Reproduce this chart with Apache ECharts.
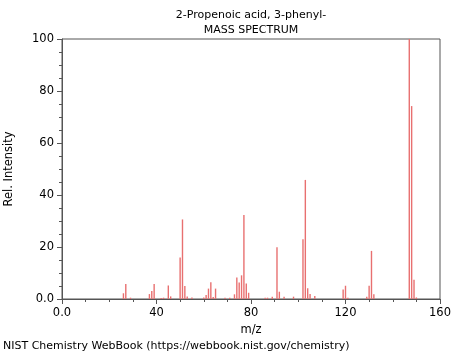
<!DOCTYPE html>
<html>
<head>
<meta charset="utf-8">
<script src="https://cdn.jsdelivr.net/npm/echarts@6/dist/echarts.min.js"></script>
<style>
html,body{margin:0;padding:0;background:#fff;}
#c{width:474px;height:355px;}
</style>
</head>
<body>
<div id="c"></div>
<script>
const titleLines = ["2-Propenoic acid, 3-phenyl-", "MASS SPECTRUM"];
const xTickLabels = ["0.0", "40", "80", "120", "160"];
const yTickLabels = ["0.0", "20", "40", "60", "80", "100"];
const mz = [26,27,29,37,38,39,42,43,45,46,50,51,52,53,55,60,61,62,63,64,65,69,71,73,74,75,76,77,78,79,86,87,89,91,92,94,98,102,103,104,105,107,119,120,121,129,130,131,132,147,148,149,150];
const intensity = [2.2,5.8,0.5,1.9,3.1,5.8,0.4,0.5,5.2,1.0,16,30.6,5.0,1.0,0.6,0.6,1.5,4.0,6.4,0.8,4.0,0.5,0.5,1.8,8.3,6.3,9.1,32.3,6.0,2.4,0.5,0.5,0.9,19.9,2.8,0.9,0.9,23,45.8,4.1,1.9,1.2,3.7,5.1,0.5,0.9,5.1,18.5,1.8,100,74.2,7.4,0.6];

const chart = echarts.init(document.getElementById('c'), null, {renderer: 'canvas'});
const font = 'DejaVu Sans';
const fs = 11.5;
chart.setOption({
  animation: false,
  backgroundColor: '#fff',
  title: [
    {text: titleLines[0], left: 246, top: 5, textAlign: 'center',
     textStyle: {fontFamily: font, fontSize: 11, fontWeight: 'normal', color: '#000'}},
    {text: titleLines[1], left: 246, top: 20, textAlign: 'center',
     textStyle: {fontFamily: font, fontSize: 11, fontWeight: 'normal', color: '#000'}},
    {text: 'NIST Chemistry WebBook (https://webbook.nist.gov/chemistry)', left: -2, top: 336,
     textStyle: {fontFamily: font, fontSize: 11, fontWeight: 'normal', color: '#000'}}
  ],
  grid: {left: 62, right: 34, top: 39, bottom: 56, show: true, borderColor: '#555', borderWidth: 1,
         containLabel: false, outerBoundsMode: 'none'},
  xAxis: {
    type: 'value', min: 0, max: 160, interval: 40,
    name: 'm/z', nameLocation: 'middle', nameGap: 23,
    nameTextStyle: {fontFamily: font, fontSize: fs, color: '#000'},
    axisLine: {show: true, lineStyle: {color: '#555'}},
    axisTick: {show: true, length: 5, lineStyle: {color: '#555'}},
    minorTick: {show: true, splitNumber: 4, length: 3, lineStyle: {color: '#555'}},
    splitLine: {show: false},
    axisLabel: {fontFamily: font, fontSize: fs, color: '#000', margin: 8,
      formatter: function (v) { return xTickLabels[Math.round(v / 40)]; }}
  },
  yAxis: {
    type: 'value', min: 0, max: 100, interval: 20,
    name: 'Rel. Intensity', nameLocation: 'middle', nameGap: 47,
    nameTextStyle: {fontFamily: font, fontSize: fs, color: '#000'},
    axisLine: {show: true, lineStyle: {color: '#555'}},
    axisTick: {show: true, length: 5, lineStyle: {color: '#555'}},
    minorTick: {show: true, splitNumber: 4, length: 3, lineStyle: {color: '#555'}},
    splitLine: {show: false},
    axisLabel: {fontFamily: font, fontSize: fs, color: '#000', margin: 8,
      formatter: function (v) { return yTickLabels[Math.round(v / 20)]; }}
  },
  series: [{
    type: 'bar',
    barWidth: 1.4,
    itemStyle: {color: '#e87070'},
    data: mz.map((m, i) => [m, intensity[i]])
  }]
});
</script>
</body>
</html>
